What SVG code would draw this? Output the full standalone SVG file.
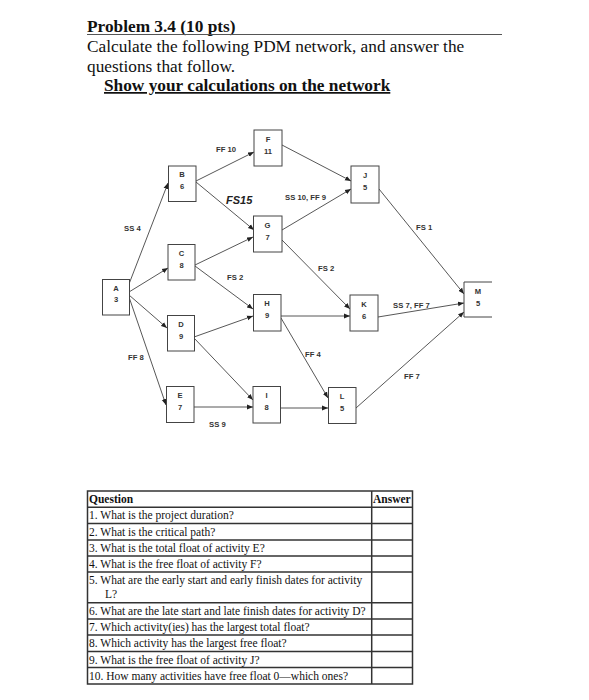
<svg xmlns="http://www.w3.org/2000/svg" width="589" height="700" viewBox="0 0 589 700">
<defs>
<marker id="ah" viewBox="0 0 10 10" refX="10" refY="5" markerWidth="6" markerHeight="6" markerUnits="userSpaceOnUse" orient="auto">
<path d="M0,1 L10,5 L0,9 z" fill="#222"/>
</marker>
<style>
.hd{font-family:"Liberation Serif","Times New Roman",serif;font-size:17.3px;fill:#111}
.hb{font-weight:bold}
.box{fill:#fff;stroke:#444;stroke-width:1}
.nt{font-family:"Liberation Sans",Arial,sans-serif;font-size:7.6px;font-weight:bold;fill:#333;text-anchor:middle}
.lb{font-family:"Liberation Sans",Arial,sans-serif;font-size:7.7px;font-weight:bold;fill:#333}
.fs{font-family:"Liberation Sans",Arial,sans-serif;font-size:11px;font-weight:bold;font-style:italic;fill:#222}
.ed line{stroke:#444;stroke-width:0.9;marker-end:url(#ah)}
.tb{font-family:"Liberation Serif","Times New Roman",serif;font-size:11.5px;fill:#111}
.tl{stroke:#333;stroke-width:1.5;fill:none}
</style>
</defs>
<rect width="589" height="700" fill="#fff"/>
<g id="header">
<text class="hd hb" x="87" y="32">Problem 3.4 (10 pts)</text>
<line x1="87" y1="34.5" x2="502" y2="34.5" stroke="#555" stroke-width="1"/>
<text class="hd" x="87" y="52">Calculate the following PDM network, and answer the</text>
<text class="hd" x="87" y="72">questions that follow.</text>
<text class="hd hb" x="104" y="91" text-decoration="underline">Show your calculations on the network</text>
</g>
<g id="connectors" class="ed">
<line x1="129" y1="284" x2="168" y2="183"/>
<line x1="129" y1="292" x2="168" y2="268"/>
<line x1="129" y1="295" x2="167" y2="328"/>
<line x1="129" y1="297" x2="166" y2="405"/>
<line x1="196" y1="181" x2="254" y2="152"/>
<line x1="196" y1="182" x2="254" y2="230"/>
<line x1="195" y1="265" x2="253" y2="237"/>
<line x1="195" y1="266" x2="253" y2="309"/>
<line x1="194" y1="337" x2="253" y2="316"/>
<line x1="194" y1="338" x2="253" y2="400"/>
<line x1="194" y1="407" x2="253" y2="407"/>
<line x1="282" y1="145" x2="351" y2="181"/>
<line x1="282" y1="230" x2="351" y2="189"/>
<line x1="282" y1="240" x2="350" y2="309"/>
<line x1="281" y1="316" x2="350" y2="316"/>
<line x1="281" y1="318" x2="328" y2="398"/>
<line x1="280" y1="408" x2="328" y2="408"/>
<line x1="379" y1="189" x2="464" y2="294"/>
<line x1="378" y1="317" x2="464" y2="303"/>
<line x1="356" y1="408" x2="464" y2="312"/>
</g>
<g id="A"><rect class="box" x="102.5" y="279.5" width="27" height="35.5"/><text class="nt" x="116" y="291">A</text><text class="nt" x="116" y="302">3</text></g>
<g id="B"><rect class="box" x="168.5" y="166" width="27.5" height="35.5"/><text class="nt" x="182" y="177">B</text><text class="nt" x="182" y="189">6</text></g>
<g id="C"><rect class="box" x="168" y="244.5" width="27" height="35.5"/><text class="nt" x="181.5" y="256">C</text><text class="nt" x="181.5" y="268">8</text></g>
<g id="D"><rect class="box" x="167.5" y="315.5" width="27" height="35.5"/><text class="nt" x="181" y="327">D</text><text class="nt" x="181" y="339">9</text></g>
<g id="E"><rect class="box" x="166.5" y="386.5" width="27.5" height="36"/><text class="nt" x="180" y="398">E</text><text class="nt" x="180" y="410">7</text></g>
<g id="F"><rect class="box" x="254" y="130" width="28" height="36"/><text class="nt" x="268" y="142">F</text><text class="nt" x="268" y="154">11</text></g>
<g id="G"><rect class="box" x="253.5" y="216" width="28.5" height="36"/><text class="nt" x="267.5" y="228">G</text><text class="nt" x="267.5" y="240">7</text></g>
<g id="H"><rect class="box" x="253.5" y="294.5" width="27.5" height="36.5"/><text class="nt" x="267" y="306">H</text><text class="nt" x="267" y="318">9</text></g>
<g id="I"><rect class="box" x="253" y="386.5" width="27.5" height="36.5"/><text class="nt" x="266.5" y="398">I</text><text class="nt" x="266.5" y="410">8</text></g>
<g id="J"><rect class="box" x="351" y="166" width="28" height="37"/><text class="nt" x="365" y="178">J</text><text class="nt" x="365" y="190">5</text></g>
<g id="K"><rect class="box" x="350" y="295" width="28" height="36"/><text class="nt" x="364" y="307">K</text><text class="nt" x="364" y="319">6</text></g>
<g id="L"><rect class="box" x="328.5" y="387.5" width="27.5" height="36"/><text class="nt" x="342" y="399">L</text><text class="nt" x="342" y="411">5</text></g>
<g id="M"><path d="M492,282 H464 V317 H492" fill="#fff" stroke="#444" stroke-width="1"/><text class="nt" x="478" y="294">M</text><text class="nt" x="478" y="306">5</text></g>
<g id="labels">
<text class="lb" x="216" y="152">FF 10</text>
<text class="fs" x="226" y="204">FS15</text>
<text class="lb" x="285" y="200">SS 10, FF 9</text>
<text class="lb" x="416" y="230">FS 1</text>
<text class="lb" x="124" y="231">SS 4</text>
<text class="lb" x="318" y="271">FS 2</text>
<text class="lb" x="227" y="280">FS 2</text>
<text class="lb" x="393" y="308">SS 7, FF 7</text>
<text class="lb" x="305" y="357">FF 4</text>
<text class="lb" x="404" y="379">FF 7</text>
<text class="lb" x="128" y="360">FF 8</text>
<text class="lb" x="209" y="427">SS 9</text>
</g>
<g id="table">
<rect class="tl" x="87.5" y="491" width="325" height="193"/>
<line class="tl" x1="371.7" y1="491" x2="371.7" y2="684"/>
<line class="tl" x1="87.5" y1="507.3" x2="412.5" y2="507.3"/>
<line class="tl" x1="87.5" y1="523.5" x2="412.5" y2="523.5"/>
<line class="tl" x1="87.5" y1="540" x2="412.5" y2="540"/>
<line class="tl" x1="87.5" y1="556" x2="412.5" y2="556"/>
<line class="tl" x1="87.5" y1="572" x2="412.5" y2="572"/>
<line class="tl" x1="87.5" y1="602.7" x2="412.5" y2="602.7"/>
<line class="tl" x1="87.5" y1="619" x2="412.5" y2="619"/>
<line class="tl" x1="87.5" y1="635" x2="412.5" y2="635"/>
<line class="tl" x1="87.5" y1="651.5" x2="412.5" y2="651.5"/>
<line class="tl" x1="87.5" y1="667.5" x2="412.5" y2="667.5"/>
<text class="tb" font-weight="bold" x="89" y="503">Question</text>
<text class="tb" font-weight="bold" x="373" y="503">Answer</text>
<text class="tb" x="89" y="519">1. What is the project duration?</text>
<text class="tb" x="89" y="535.5">2. What is the critical path?</text>
<text class="tb" x="89" y="552">3. What is the total float of activity E?</text>
<text class="tb" x="89" y="568">4. What is the free float of activity F?</text>
<text class="tb" x="89" y="584">5. What are the early start and early finish dates for activity</text>
<text class="tb" x="105" y="598">L?</text>
<text class="tb" x="89" y="615">6. What are the late start and late finish dates for activity D?</text>
<text class="tb" x="89" y="631">7. Which activity(ies) has the largest total float?</text>
<text class="tb" x="89" y="647">8. Which activity has the largest free float?</text>
<text class="tb" x="89" y="663.5">9. What is the free float of activity J?</text>
<text class="tb" x="89" y="680">10. How many activities have free float 0—which ones?</text>
</g>
</svg>
